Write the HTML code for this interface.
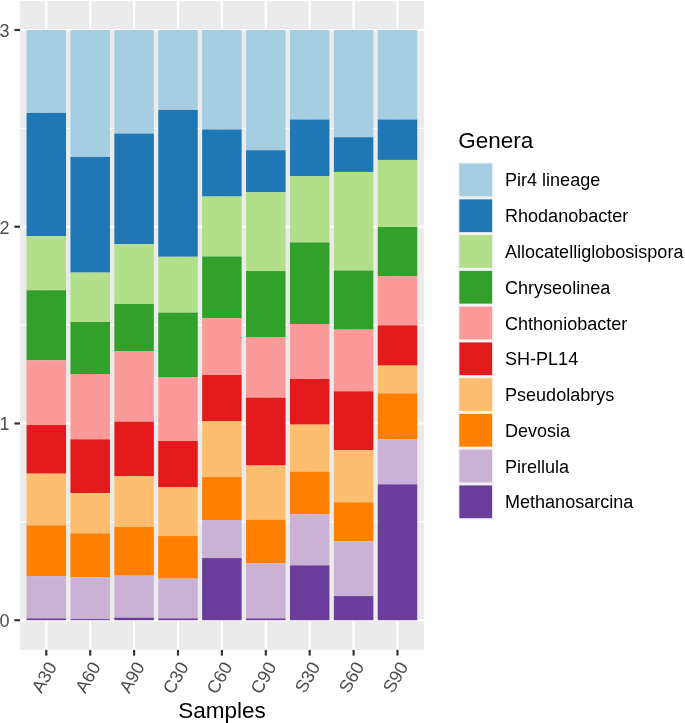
<!DOCTYPE html>
<html><head><meta charset="utf-8"><title>Genera</title>
<style>html,body{margin:0;padding:0;background:#fff}svg text{font-family:"Liberation Sans",Arial,Helvetica,sans-serif}</style></head>
<body>
<svg width="685" height="723" viewBox="0 0 685 723" style="display:block">
<rect x="0" y="0" width="685" height="723" fill="#fff"/>
<rect x="20.1" y="0.9" width="403.9" height="649.0" fill="#EBEBEB"/>
<line x1="20.1" x2="424.0" y1="521.83" y2="521.83" stroke="#fff" stroke-width="1.1"/>
<line x1="20.1" x2="424.0" y1="325.10" y2="325.10" stroke="#fff" stroke-width="1.1"/>
<line x1="20.1" x2="424.0" y1="128.37" y2="128.37" stroke="#fff" stroke-width="1.1"/>
<line x1="20.1" x2="424.0" y1="620.20" y2="620.20" stroke="#fff" stroke-width="2.2"/>
<line x1="20.1" x2="424.0" y1="423.47" y2="423.47" stroke="#fff" stroke-width="2.2"/>
<line x1="20.1" x2="424.0" y1="226.73" y2="226.73" stroke="#fff" stroke-width="2.2"/>
<line x1="20.1" x2="424.0" y1="30.00" y2="30.00" stroke="#fff" stroke-width="2.2"/>
<line x1="46.30" x2="46.30" y1="0.9" y2="649.9" stroke="#fff" stroke-width="2.2"/>
<line x1="90.20" x2="90.20" y1="0.9" y2="649.9" stroke="#fff" stroke-width="2.2"/>
<line x1="134.10" x2="134.10" y1="0.9" y2="649.9" stroke="#fff" stroke-width="2.2"/>
<line x1="178.00" x2="178.00" y1="0.9" y2="649.9" stroke="#fff" stroke-width="2.2"/>
<line x1="221.90" x2="221.90" y1="0.9" y2="649.9" stroke="#fff" stroke-width="2.2"/>
<line x1="265.80" x2="265.80" y1="0.9" y2="649.9" stroke="#fff" stroke-width="2.2"/>
<line x1="309.70" x2="309.70" y1="0.9" y2="649.9" stroke="#fff" stroke-width="2.2"/>
<line x1="353.60" x2="353.60" y1="0.9" y2="649.9" stroke="#fff" stroke-width="2.2"/>
<line x1="397.50" x2="397.50" y1="0.9" y2="649.9" stroke="#fff" stroke-width="2.2"/>
<rect x="26.55" y="30.00" width="39.50" height="82.93" fill="#A6CEE3"/>
<rect x="26.55" y="112.93" width="39.50" height="123.34" fill="#1F78B4"/>
<rect x="26.55" y="236.27" width="39.50" height="54.02" fill="#B2DF8A"/>
<rect x="26.55" y="290.29" width="39.50" height="70.02" fill="#33A02C"/>
<rect x="26.55" y="360.31" width="39.50" height="64.72" fill="#FB9A99"/>
<rect x="26.55" y="425.03" width="39.50" height="48.62" fill="#E31A1C"/>
<rect x="26.55" y="473.65" width="39.50" height="51.72" fill="#FDBF6F"/>
<rect x="26.55" y="525.37" width="39.50" height="50.72" fill="#FF7F00"/>
<rect x="26.55" y="576.09" width="39.50" height="42.31" fill="#CAB2D6"/>
<rect x="26.55" y="618.40" width="39.50" height="1.80" fill="#6A3D9A"/>
<rect x="70.45" y="30.00" width="39.50" height="126.94" fill="#A6CEE3"/>
<rect x="70.45" y="156.94" width="39.50" height="115.64" fill="#1F78B4"/>
<rect x="70.45" y="272.58" width="39.50" height="49.42" fill="#B2DF8A"/>
<rect x="70.45" y="322.00" width="39.50" height="52.02" fill="#33A02C"/>
<rect x="70.45" y="374.02" width="39.50" height="65.32" fill="#FB9A99"/>
<rect x="70.45" y="439.34" width="39.50" height="53.72" fill="#E31A1C"/>
<rect x="70.45" y="493.06" width="39.50" height="40.31" fill="#FDBF6F"/>
<rect x="70.45" y="533.37" width="39.50" height="44.01" fill="#FF7F00"/>
<rect x="70.45" y="577.39" width="39.50" height="41.71" fill="#CAB2D6"/>
<rect x="70.45" y="619.10" width="39.50" height="1.10" fill="#6A3D9A"/>
<rect x="114.35" y="30.00" width="39.50" height="103.54" fill="#A6CEE3"/>
<rect x="114.35" y="133.54" width="39.50" height="110.74" fill="#1F78B4"/>
<rect x="114.35" y="244.27" width="39.50" height="59.72" fill="#B2DF8A"/>
<rect x="114.35" y="303.99" width="39.50" height="47.02" fill="#33A02C"/>
<rect x="114.35" y="351.01" width="39.50" height="70.62" fill="#FB9A99"/>
<rect x="114.35" y="421.63" width="39.50" height="54.72" fill="#E31A1C"/>
<rect x="114.35" y="476.35" width="39.50" height="50.72" fill="#FDBF6F"/>
<rect x="114.35" y="527.07" width="39.50" height="48.62" fill="#FF7F00"/>
<rect x="114.35" y="575.68" width="39.50" height="42.01" fill="#CAB2D6"/>
<rect x="114.35" y="617.70" width="39.50" height="2.50" fill="#6A3D9A"/>
<rect x="158.25" y="30.00" width="39.50" height="79.93" fill="#A6CEE3"/>
<rect x="158.25" y="109.93" width="39.50" height="146.85" fill="#1F78B4"/>
<rect x="158.25" y="256.78" width="39.50" height="55.82" fill="#B2DF8A"/>
<rect x="158.25" y="312.60" width="39.50" height="64.42" fill="#33A02C"/>
<rect x="158.25" y="377.02" width="39.50" height="64.02" fill="#FB9A99"/>
<rect x="158.25" y="441.04" width="39.50" height="46.32" fill="#E31A1C"/>
<rect x="158.25" y="487.35" width="39.50" height="48.72" fill="#FDBF6F"/>
<rect x="158.25" y="536.07" width="39.50" height="42.61" fill="#FF7F00"/>
<rect x="158.25" y="578.69" width="39.50" height="39.71" fill="#CAB2D6"/>
<rect x="158.25" y="618.40" width="39.50" height="1.80" fill="#6A3D9A"/>
<rect x="202.15" y="30.00" width="39.50" height="99.53" fill="#A6CEE3"/>
<rect x="202.15" y="129.53" width="39.50" height="67.02" fill="#1F78B4"/>
<rect x="202.15" y="196.56" width="39.50" height="59.92" fill="#B2DF8A"/>
<rect x="202.15" y="256.48" width="39.50" height="61.82" fill="#33A02C"/>
<rect x="202.15" y="318.30" width="39.50" height="56.72" fill="#FB9A99"/>
<rect x="202.15" y="375.02" width="39.50" height="46.32" fill="#E31A1C"/>
<rect x="202.15" y="421.33" width="39.50" height="55.72" fill="#FDBF6F"/>
<rect x="202.15" y="477.05" width="39.50" height="43.01" fill="#FF7F00"/>
<rect x="202.15" y="520.07" width="39.50" height="38.01" fill="#CAB2D6"/>
<rect x="202.15" y="558.08" width="39.50" height="62.12" fill="#6A3D9A"/>
<rect x="246.05" y="30.00" width="39.50" height="120.24" fill="#A6CEE3"/>
<rect x="246.05" y="150.24" width="39.50" height="42.01" fill="#1F78B4"/>
<rect x="246.05" y="192.25" width="39.50" height="78.83" fill="#B2DF8A"/>
<rect x="246.05" y="271.08" width="39.50" height="65.92" fill="#33A02C"/>
<rect x="246.05" y="337.00" width="39.50" height="60.62" fill="#FB9A99"/>
<rect x="246.05" y="397.62" width="39.50" height="67.92" fill="#E31A1C"/>
<rect x="246.05" y="465.55" width="39.50" height="54.12" fill="#FDBF6F"/>
<rect x="246.05" y="519.67" width="39.50" height="43.71" fill="#FF7F00"/>
<rect x="246.05" y="563.38" width="39.50" height="55.02" fill="#CAB2D6"/>
<rect x="246.05" y="618.40" width="39.50" height="1.80" fill="#6A3D9A"/>
<rect x="289.95" y="30.00" width="39.50" height="89.53" fill="#A6CEE3"/>
<rect x="289.95" y="119.53" width="39.50" height="56.72" fill="#1F78B4"/>
<rect x="289.95" y="176.25" width="39.50" height="66.22" fill="#B2DF8A"/>
<rect x="289.95" y="242.47" width="39.50" height="81.53" fill="#33A02C"/>
<rect x="289.95" y="324.00" width="39.50" height="55.02" fill="#FB9A99"/>
<rect x="289.95" y="379.02" width="39.50" height="45.62" fill="#E31A1C"/>
<rect x="289.95" y="424.63" width="39.50" height="47.02" fill="#FDBF6F"/>
<rect x="289.95" y="471.65" width="39.50" height="42.71" fill="#FF7F00"/>
<rect x="289.95" y="514.36" width="39.50" height="51.02" fill="#CAB2D6"/>
<rect x="289.95" y="565.38" width="39.50" height="54.82" fill="#6A3D9A"/>
<rect x="333.85" y="30.00" width="39.50" height="107.24" fill="#A6CEE3"/>
<rect x="333.85" y="137.24" width="39.50" height="34.71" fill="#1F78B4"/>
<rect x="333.85" y="171.95" width="39.50" height="98.63" fill="#B2DF8A"/>
<rect x="333.85" y="270.58" width="39.50" height="59.02" fill="#33A02C"/>
<rect x="333.85" y="329.60" width="39.50" height="61.72" fill="#FB9A99"/>
<rect x="333.85" y="391.32" width="39.50" height="59.02" fill="#E31A1C"/>
<rect x="333.85" y="450.34" width="39.50" height="52.02" fill="#FDBF6F"/>
<rect x="333.85" y="502.36" width="39.50" height="39.01" fill="#FF7F00"/>
<rect x="333.85" y="541.37" width="39.50" height="54.72" fill="#CAB2D6"/>
<rect x="333.85" y="596.09" width="39.50" height="24.11" fill="#6A3D9A"/>
<rect x="377.75" y="30.00" width="39.50" height="89.53" fill="#A6CEE3"/>
<rect x="377.75" y="119.53" width="39.50" height="40.41" fill="#1F78B4"/>
<rect x="377.75" y="159.94" width="39.50" height="67.02" fill="#B2DF8A"/>
<rect x="377.75" y="226.97" width="39.50" height="49.32" fill="#33A02C"/>
<rect x="377.75" y="276.28" width="39.50" height="49.02" fill="#FB9A99"/>
<rect x="377.75" y="325.30" width="39.50" height="40.31" fill="#E31A1C"/>
<rect x="377.75" y="365.61" width="39.50" height="27.71" fill="#FDBF6F"/>
<rect x="377.75" y="393.32" width="39.50" height="45.82" fill="#FF7F00"/>
<rect x="377.75" y="439.14" width="39.50" height="45.22" fill="#CAB2D6"/>
<rect x="377.75" y="484.35" width="39.50" height="135.85" fill="#6A3D9A"/>
<line x1="14.400000000000002" x2="20.1" y1="620.20" y2="620.20" stroke="#333" stroke-width="2.2"/>
<text x="9.60" y="627.00" text-anchor="end" font-size="18.0" fill="#4D4D4D">0</text>
<line x1="14.400000000000002" x2="20.1" y1="423.47" y2="423.47" stroke="#333" stroke-width="2.2"/>
<text x="9.60" y="430.27" text-anchor="end" font-size="18.0" fill="#4D4D4D">1</text>
<line x1="14.400000000000002" x2="20.1" y1="226.73" y2="226.73" stroke="#333" stroke-width="2.2"/>
<text x="9.60" y="233.53" text-anchor="end" font-size="18.0" fill="#4D4D4D">2</text>
<line x1="14.400000000000002" x2="20.1" y1="30.00" y2="30.00" stroke="#333" stroke-width="2.2"/>
<text x="9.60" y="36.80" text-anchor="end" font-size="18.0" fill="#4D4D4D">3</text>
<line x1="46.30" x2="46.30" y1="649.9" y2="655.6" stroke="#333" stroke-width="2.2"/>
<text transform="translate(57.46,666.54) rotate(-60)" text-anchor="end" font-size="18.0" fill="#4D4D4D">A30</text>
<line x1="90.20" x2="90.20" y1="649.9" y2="655.6" stroke="#333" stroke-width="2.2"/>
<text transform="translate(101.36,666.54) rotate(-60)" text-anchor="end" font-size="18.0" fill="#4D4D4D">A60</text>
<line x1="134.10" x2="134.10" y1="649.9" y2="655.6" stroke="#333" stroke-width="2.2"/>
<text transform="translate(145.26,666.54) rotate(-60)" text-anchor="end" font-size="18.0" fill="#4D4D4D">A90</text>
<line x1="178.00" x2="178.00" y1="649.9" y2="655.6" stroke="#333" stroke-width="2.2"/>
<text transform="translate(189.16,666.54) rotate(-60)" text-anchor="end" font-size="18.0" fill="#4D4D4D">C30</text>
<line x1="221.90" x2="221.90" y1="649.9" y2="655.6" stroke="#333" stroke-width="2.2"/>
<text transform="translate(233.06,666.54) rotate(-60)" text-anchor="end" font-size="18.0" fill="#4D4D4D">C60</text>
<line x1="265.80" x2="265.80" y1="649.9" y2="655.6" stroke="#333" stroke-width="2.2"/>
<text transform="translate(276.96,666.54) rotate(-60)" text-anchor="end" font-size="18.0" fill="#4D4D4D">C90</text>
<line x1="309.70" x2="309.70" y1="649.9" y2="655.6" stroke="#333" stroke-width="2.2"/>
<text transform="translate(320.86,666.54) rotate(-60)" text-anchor="end" font-size="18.0" fill="#4D4D4D">S30</text>
<line x1="353.60" x2="353.60" y1="649.9" y2="655.6" stroke="#333" stroke-width="2.2"/>
<text transform="translate(364.76,666.54) rotate(-60)" text-anchor="end" font-size="18.0" fill="#4D4D4D">S60</text>
<line x1="397.50" x2="397.50" y1="649.9" y2="655.6" stroke="#333" stroke-width="2.2"/>
<text transform="translate(408.66,666.54) rotate(-60)" text-anchor="end" font-size="18.0" fill="#4D4D4D">S90</text>
<text x="222.05" y="717.8" text-anchor="middle" font-size="22.5" fill="#000">Samples</text>
<text x="458.3" y="148.4" font-size="22.5" fill="#000">Genera</text>
<rect x="457.85" y="162.10" width="35.76" height="35.76" fill="#F2F2F2"/>
<rect x="459.35" y="163.60" width="32.76" height="32.76" fill="#A6CEE3"/>
<text x="505.0" y="186.48" font-size="18.05" fill="#000">Pir4 lineage</text>
<rect x="457.85" y="197.86" width="35.76" height="35.76" fill="#F2F2F2"/>
<rect x="459.35" y="199.36" width="32.76" height="32.76" fill="#1F78B4"/>
<text x="505.0" y="222.24" font-size="18.05" fill="#000">Rhodanobacter</text>
<rect x="457.85" y="233.62" width="35.76" height="35.76" fill="#F2F2F2"/>
<rect x="459.35" y="235.12" width="32.76" height="32.76" fill="#B2DF8A"/>
<text x="505.0" y="258.00" font-size="18.05" fill="#000">Allocatelliglobosispora</text>
<rect x="457.85" y="269.38" width="35.76" height="35.76" fill="#F2F2F2"/>
<rect x="459.35" y="270.88" width="32.76" height="32.76" fill="#33A02C"/>
<text x="505.0" y="293.76" font-size="18.05" fill="#000">Chryseolinea</text>
<rect x="457.85" y="305.14" width="35.76" height="35.76" fill="#F2F2F2"/>
<rect x="459.35" y="306.64" width="32.76" height="32.76" fill="#FB9A99"/>
<text x="505.0" y="329.52" font-size="18.05" fill="#000">Chthoniobacter</text>
<rect x="457.85" y="340.90" width="35.76" height="35.76" fill="#F2F2F2"/>
<rect x="459.35" y="342.40" width="32.76" height="32.76" fill="#E31A1C"/>
<text x="505.0" y="365.28" font-size="18.05" fill="#000">SH-PL14</text>
<rect x="457.85" y="376.66" width="35.76" height="35.76" fill="#F2F2F2"/>
<rect x="459.35" y="378.16" width="32.76" height="32.76" fill="#FDBF6F"/>
<text x="505.0" y="401.04" font-size="18.05" fill="#000">Pseudolabrys</text>
<rect x="457.85" y="412.42" width="35.76" height="35.76" fill="#F2F2F2"/>
<rect x="459.35" y="413.92" width="32.76" height="32.76" fill="#FF7F00"/>
<text x="505.0" y="436.80" font-size="18.05" fill="#000">Devosia</text>
<rect x="457.85" y="448.18" width="35.76" height="35.76" fill="#F2F2F2"/>
<rect x="459.35" y="449.68" width="32.76" height="32.76" fill="#CAB2D6"/>
<text x="505.0" y="472.56" font-size="18.05" fill="#000">Pirellula</text>
<rect x="457.85" y="483.94" width="35.76" height="35.76" fill="#F2F2F2"/>
<rect x="459.35" y="485.44" width="32.76" height="32.76" fill="#6A3D9A"/>
<text x="505.0" y="508.32" font-size="18.05" fill="#000">Methanosarcina</text>
</svg>
</body></html>
